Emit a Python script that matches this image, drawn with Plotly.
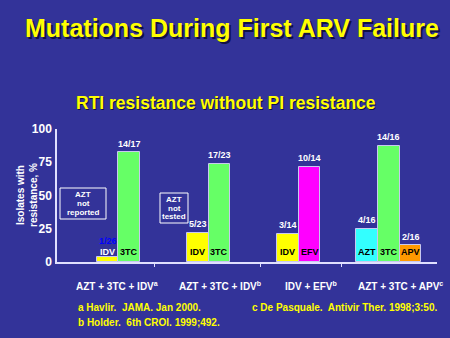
import plotly.graph_objects as go

# ---- data ----
groups = ["AZT + 3TC + IDV<sup>a</sup>", "AZT + 3TC + IDV<sup>b</sup>",
          "IDV + EFV<sup>b</sup>", "AZT + 3TC + APV<sup>c</sup>"]
drugs = [["IDV", "3TC"], ["IDV", "3TC"], ["IDV", "EFV"], ["AZT", "3TC", "APV"]]
resistant = [[1, 14], [5, 17], [3, 10], [4, 14, 2]]
totals = [[26, 17], [23, 23], [14, 14], [16, 16, 16]]
drug_colors = {"IDV": "#ffff00", "3TC": "#66ff66", "EFV": "#ff00ff",
               "AZT": "#33ffff", "APV": "#ff9900"}
y_ticks = [0, 25, 50, 75, 100]
footnotes = ["a Havlir.\u00a0 JAMA. Jan 2000.",
             "b Holder.\u00a0 6th CROI. 1999;492.",
             "c De Pasquale.\u00a0 Antivir Ther. 1998;3:50."]
boxes = ["AZT<br>not<br>reported", "AZT<br>not<br>tested"]

BG = "#333399"
FONT = "Liberation Sans, Arial, sans-serif"
W, H = 450, 338
L, R, T, B = 57, 13, 129, 76
PW, PH = W - L - R, H - T - B
UNIT = 91.0

def px(x):  # pixel -> paper x
    return (x - L) / PW

def py(y):
    return (H - B - y) / PH

fig = go.Figure()

bar_w = 0.24
centers = [0.675 + i * 0.99 for i in range(len(groups))]
ann = []

def text_ann(x, y, text, size, color, xref="paper", yref="paper", **kw):
    d = dict(x=x, y=y, xref=xref, yref=yref, text=text, showarrow=False,
             xanchor="center", yanchor="middle",
             font=dict(family=FONT, size=size, weight="bold", color=color))
    d.update(kw)
    return d

for gi, (ds, rs, ts) in enumerate(zip(drugs, resistant, totals)):
    n = len(ds)
    for bi, (d, r, t) in enumerate(zip(ds, rs, ts)):
        xv = centers[gi] + (bi - (n - 1) / 2) * bar_w
        val = 100 * r / t
        fig.add_trace(go.Bar(
            x=[xv], y=[val], width=bar_w,
            marker=dict(color=drug_colors[d], line=dict(color="#c8c8f0", width=1)),
            showlegend=False, hoverinfo="skip"))
        small = val < 9
        ann.append(text_ann(xv, 7.5, d, 9, "#ffffff" if small else "#000000",
                            xref="x", yref="y"))
        ann.append(text_ann(xv, max(val, 9) + 6.5, f"{r}/{t}", 9,
                            "#0000ff" if small else "#ffffff", xref="x", yref="y"))

# category labels
label_shift = [-0.02, 0.13, 0.14, 0.13]
for gi, g in enumerate(groups):
    ann.append(text_ann(centers[gi] + label_shift[gi], py(286), g, 10, "white",
                        xref="x", yref="paper"))

# y title
ann.append(text_ann(px(26.5), 0.5, "Isolates with<br>resistance, %", 10, "white",
                    textangle=-90))

# titles
t1 = text_ann(px(232), py(28), "Mutations During First ARV Failure", 25, "#ffff00")
t1["font"]["shadow"] = "2px 2px 0px #111144"
ann.append(t1)
t2 = text_ann(px(226), py(103), "RTI resistance without PI resistance", 17.5, "#ffff00")
t2["font"]["shadow"] = "1px 1px 0px #111144"
ann.append(t2)

# footnotes
fn_pos = [(76, 307), (76, 322), (250, 307)]
for txt, (fx, fy) in zip(footnotes, fn_pos):
    ann.append(text_ann(px(fx), py(fy), txt, 10, "#ffff00", xanchor="left"))

# boxes
shapes = []
box_pos = [(60, 188, 106, 219), (160, 193, 188, 223)]
for txt, (x0, y0, x1, y1) in zip(boxes, box_pos):
    shapes.append(dict(type="rect", xref="paper", yref="paper",
                       x0=px(x0), x1=px(x1), y0=py(y0), y1=py(y1),
                       line=dict(color="white", width=1)))
    cy = (y0 + y1) / 2
    for li, ln in enumerate(txt.split("<br>")):
        ann.append(text_ann(px((x0 + x1) / 2), py(cy + (li - 1) * 8.7), ln, 8, "white"))

fig.update_layout(
    width=W, height=H, margin=dict(l=L, r=R, t=T, b=B),
    paper_bgcolor=BG, plot_bgcolor=BG, bargap=0,
    annotations=ann, shapes=shapes,
    xaxis=dict(range=[0, PW / UNIT], showgrid=False, zeroline=False,
               showline=True, linecolor="#e0e0ff", linewidth=1.5,
               tickvals=[1.066, 2.24, 3.13], showticklabels=False,
               ticks="outside", ticklen=3, tickcolor="#e0e0ff", fixedrange=True),
    yaxis=dict(range=[0, 100], tickvals=y_ticks, showgrid=False, zeroline=False,
               showline=True, linecolor="#e0e0ff", linewidth=1.5, ticks="",
               tickfont=dict(family=FONT, size=12, weight="bold", color="white"),
               ticklabelstandoff=1, fixedrange=True),
)

fig.write_html("out.html")
